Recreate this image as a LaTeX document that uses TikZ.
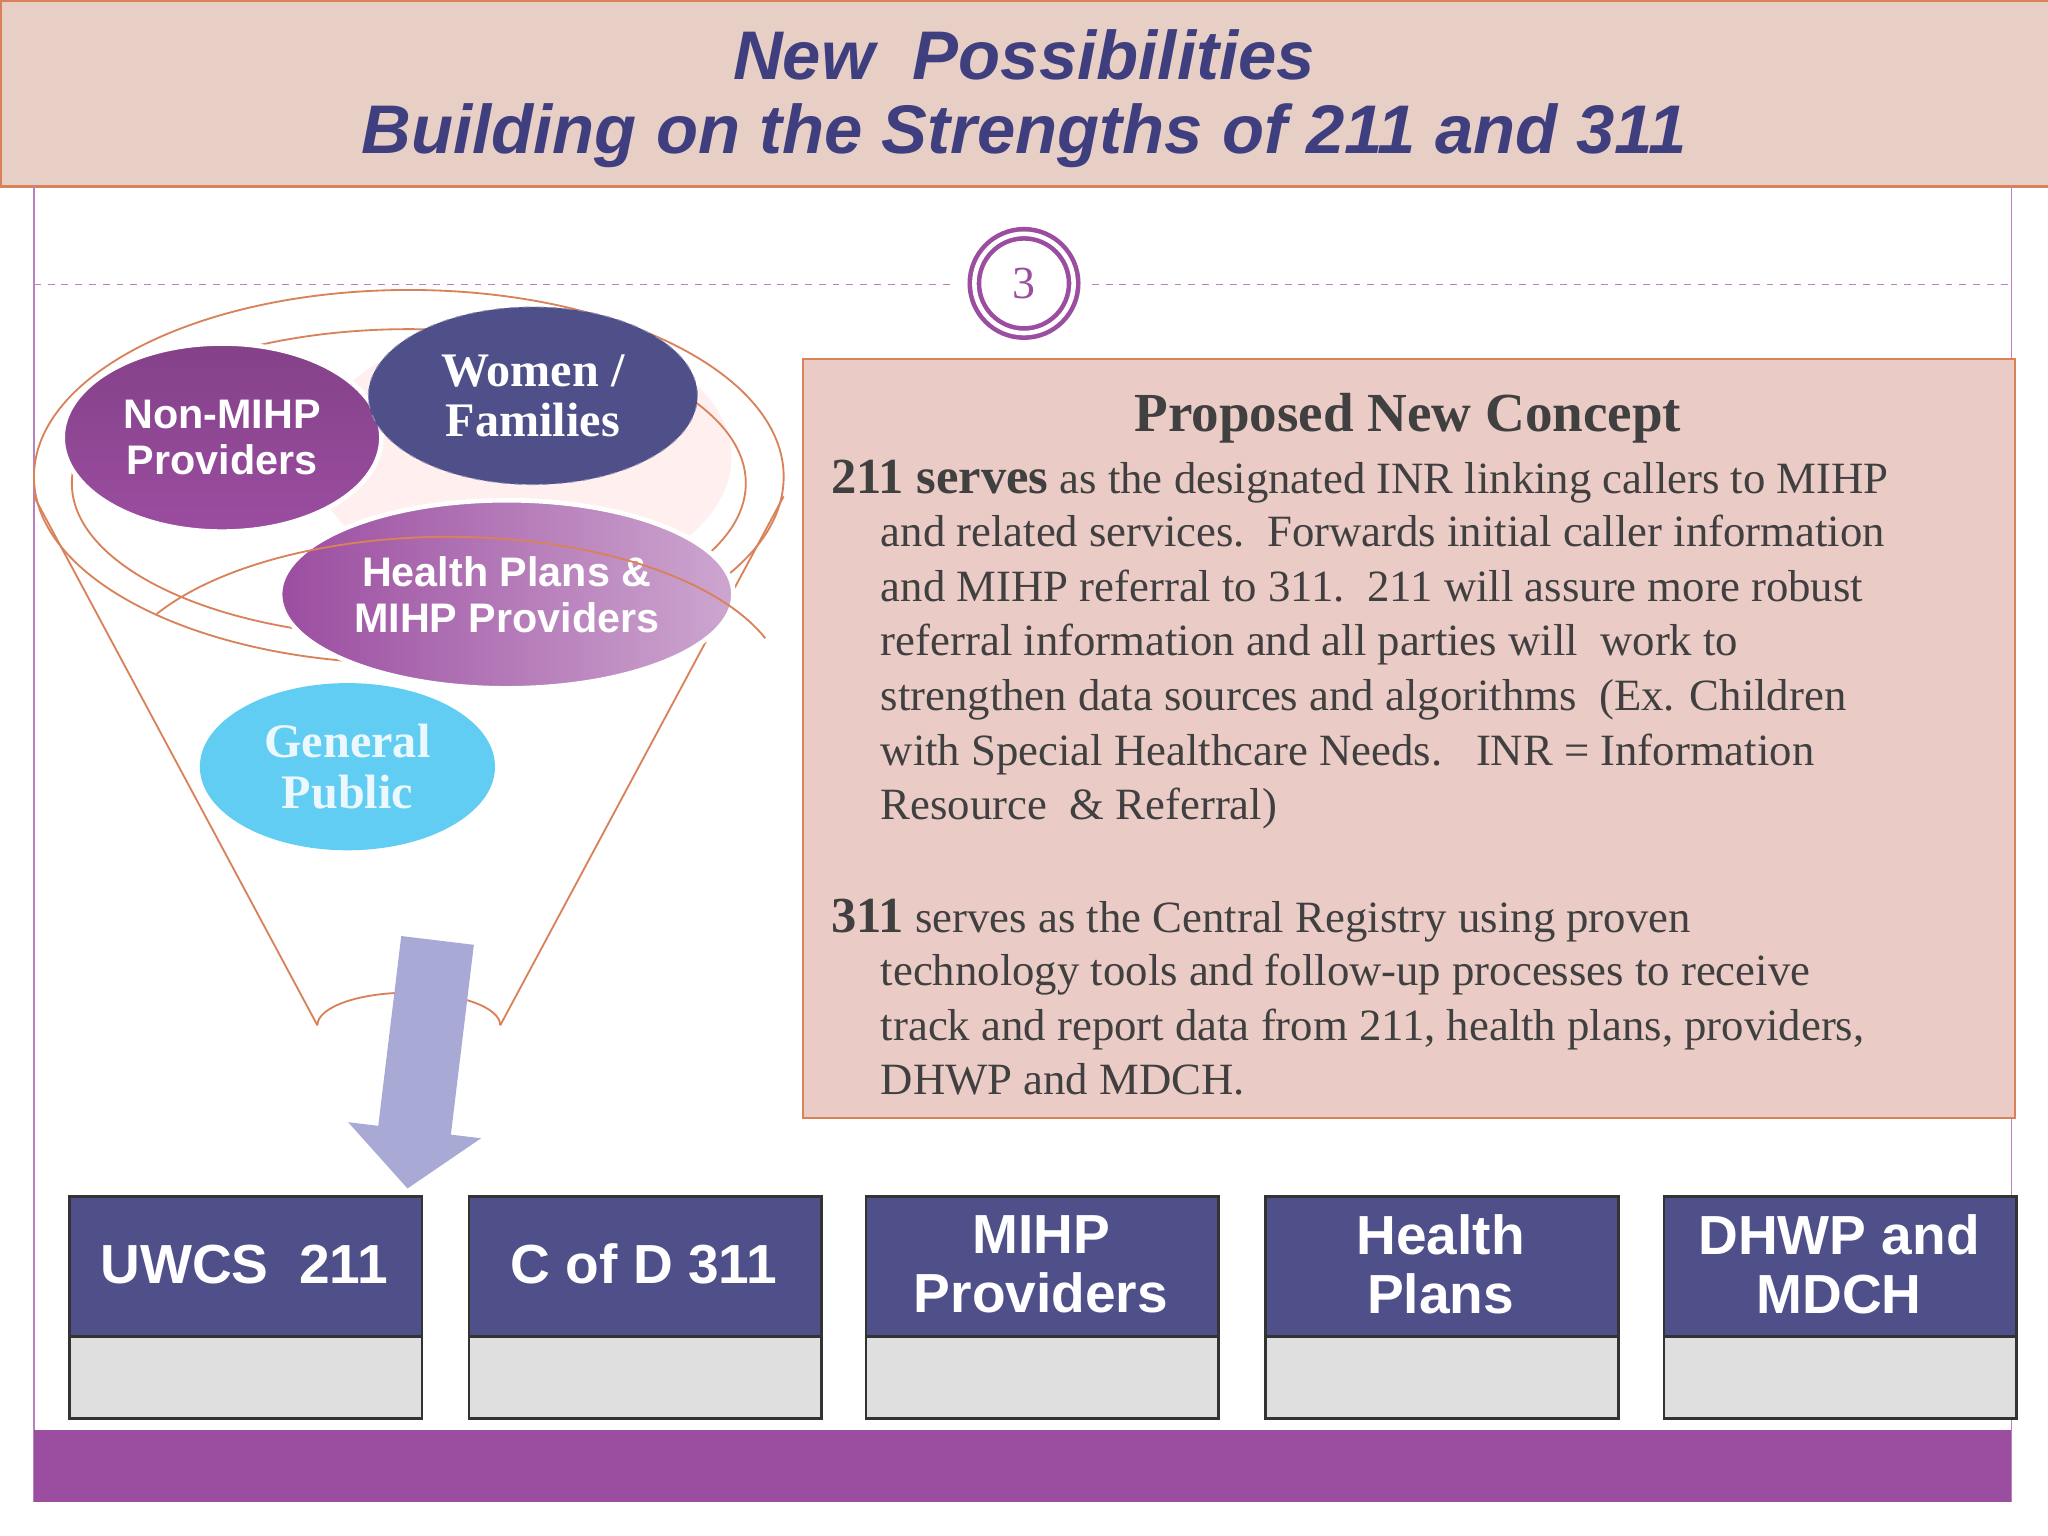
\documentclass[tikz,border=0pt]{standalone}
\usepackage{fontspec}
\setmainfont{Liberation Serif}
\setsansfont{Liberation Sans}
\usetikzlibrary{arrows.meta,shapes.geometric}
\definecolor{hdr}{HTML}{E8CFC6}
\definecolor{org}{HTML}{D9825A}
\definecolor{ttl}{HTML}{3F3F7F}
\definecolor{pur}{HTML}{9B4DA0}
\definecolor{navy}{HTML}{4F4F8A}
\definecolor{boxp}{HTML}{EACBC5}
\definecolor{sky}{HTML}{62CDF2}
\definecolor{lav}{HTML}{A9A9D6}
\begin{document}
\begin{tikzpicture}[x=0.02cm,y=-0.02cm,
 lab/.style={font=\sffamily\bfseries\fontsize{24}{26}\selectfont,text=white,align=center},
 top/.style={draw=black!80,line width=1.2pt,fill=navy},
 bot/.style={draw=black!80,line width=1.2pt,fill=gray!25},
 body/.style={font=\fontsize{19.5}{23.8}\selectfont,text=black!75,anchor=north west,align=left,inner sep=0}]
\useasboundingbox (0,0) rectangle (1568,1176);
\fill[white] (0,0) rectangle (1568,1176);
% header
\node[draw=org,fill=hdr,line width=1pt,minimum width=1568*0.02cm,minimum height=142*0.02cm,anchor=north west,inner sep=0] (hdr) at (0,0) {};
\node[font=\sffamily\bfseries\itshape\fontsize{30}{36}\selectfont,text=ttl] (t1) at (784,42) {New\ \ Possibilities};
\node[font=\sffamily\bfseries\itshape\fontsize{30}{36}\selectfont,text=ttl] (t2) at (784,104) {Building on the Strengths of 211 and 311};
% frame
\draw[pur!70,line width=0.6pt] (26,142) -- (26,1150) (1540,142) -- (1540,1150);
\draw[pur!70,dashed,line width=0.6pt] (26,218) -- (730,218) (836,218) -- (1540,218);
\node[circle,draw=pur,line width=2pt,minimum size=76*0.02cm,double=white,double distance=2pt,font=\fontsize{20}{22}\selectfont,text=pur] (num) at (784,217) {3};
% text box
\node[draw=org,fill=boxp,line width=1pt,minimum width=928*0.02cm,minimum height=581*0.02cm,anchor=north west,inner sep=0] (tb) at (614,274) {};
\node[font=\bfseries\fontsize{24}{28}\selectfont,text=black!75] (tbt) at (1078,320) {Proposed New Concept};
\node[body] (p1a) at (636,352) {\textbf{\fontsize{22}{24}\selectfont 211 serves} as the designated INR linking callers to MIHP};
\node[body] (p1b) at (674,394) {and related services.\ \ Forwards initial caller information\\and MIHP referral to 311.\ \ 211 will assure more robust\\referral information and all parties will\ \ work to\\strengthen data sources and algorithms\ \ (Ex. Children\\with Special Healthcare Needs.\ \ \ INR = Information\\Resource\ \ \& Referral)};
\node[body] (p2a) at (636,688) {\textbf{\fontsize{22}{24}\selectfont 311} serves as the Central Registry using proven};
\node[body] (p2b) at (674,730) {technology tools and follow-up processes to receive\\track and report data from 211, health plans, providers,\\DHWP and MDCH.};
% funnel
\fill[pink!25] (400,350) ellipse (160 and 100);
\draw[org,line width=0.8pt] (26,380) -- (243,785) (600,380) -- (383,785);
\draw[org,line width=0.8pt] (383,785) arc (0:-180:70 and 25);
\draw[org,line width=0.8pt] (313,365) ellipse (287 and 143);
\draw[org,line width=0.8pt] (313,370) ellipse (258 and 118);
\node[ellipse,minimum width=244*0.02cm,minimum height=144*0.02cm,draw=white,line width=2pt,top color=pur!85!black,bottom color=pur,font=\sffamily\bfseries\fontsize{18}{20}\selectfont,text=white,align=center] (nm) at (170,335) {Non-MIHP\\Providers};
\node[ellipse,minimum width=252*0.02cm,minimum height=136*0.02cm,draw=navy!60!white,dashed,fill=navy,font=\bfseries\fontsize{21}{22}\selectfont,text=white,align=center] (wf) at (408,303) {Women /\\Families};
\node[ellipse,minimum width=340*0.02cm,minimum height=144*0.02cm,draw=white,line width=2pt,left color=pur,right color=pur!50,font=\sffamily\bfseries\fontsize{18}{20}\selectfont,text=white,align=center] (hp) at (388,455) {Health Plans \&\\MIHP Providers};
\draw[org,line width=0.8pt] (120,470) arc (-150:-20:258 and 118);
\node[ellipse,minimum width=226*0.02cm,minimum height=128*0.02cm,fill=sky,font=\bfseries\fontsize{21}{22}\selectfont,text=cyan!8,align=center] (gp) at (266,587) {General\\Public};
\coordinate (as) at (335,720);
\coordinate (ae) at (312,910);
\draw[-{Triangle[length=45*0.02cm,width=100*0.02cm]},line width=56*0.02cm,draw=lav,shorten >=0pt] (as) -- (ae);
% boxes
\foreach \x/\t [count=\i] in {52/{UWCS\ \ 211},358/{C of D 311},662/{MIHP\\Providers},968/{Health\\Plans},1273/{DHWP and\\MDCH}}{
 \node[top,minimum width=270*0.02cm,minimum height=107*0.02cm,anchor=north west,inner sep=0] (b\i) at (\x,915) {};
 \node[bot,minimum width=270*0.02cm,minimum height=63*0.02cm,anchor=north west,inner sep=0] (c\i) at (\x,1022) {};
 \node[lab] (l\i) at (\x+135,968) {\t};
}
\fill[pur] (26,1095) rectangle (1540,1150);
\end{tikzpicture}
\end{document}
